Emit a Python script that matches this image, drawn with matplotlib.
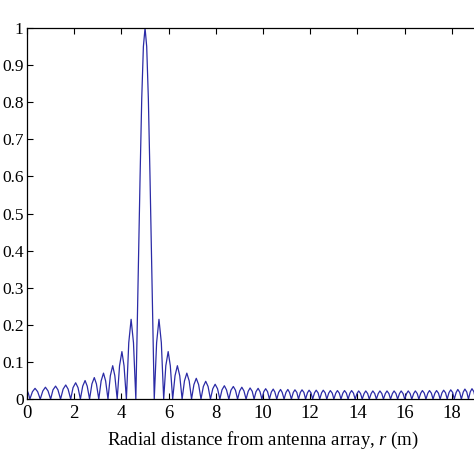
import matplotlib.pyplot as plt

# normalised gain pattern, one lobe per line
left_r = [
    0.00, 0.06,
    0.12, 0.23, 0.34, 0.45,
    0.56, 0.67, 0.78, 0.89,
    1.00, 1.10, 1.21, 1.31,
    1.42, 1.53, 1.64, 1.74,
    1.85, 1.95, 2.06, 2.16,
    2.26, 2.36, 2.46, 2.55,
    2.65, 2.75, 2.85, 2.94,
    3.04, 3.14, 3.24, 3.33,
    3.43, 3.53, 3.63, 3.72,
    3.82, 3.92, 4.02, 4.11,
    4.21, 4.31, 4.41, 4.51,
]
left_g = [
    0.024, 0.015,
    0.0, 0.020, 0.029, 0.020,
    0.0, 0.022, 0.032, 0.022,
    0.0, 0.025, 0.035, 0.025,
    0.0, 0.027, 0.038, 0.027,
    0.0, 0.031, 0.044, 0.031,
    0.0, 0.035, 0.050, 0.035,
    0.0, 0.041, 0.058, 0.041,
    0.0, 0.049, 0.070, 0.049,
    0.0, 0.063, 0.090, 0.063,
    0.0, 0.090, 0.128, 0.090,
    0.0, 0.152, 0.215, 0.152,
]

main_r = [4.61, 4.66, 4.72, 4.79, 4.86, 4.93, 5.00,
          5.07, 5.14, 5.21, 5.28, 5.34]
main_g = [0.0, 0.17, 0.37, 0.60, 0.81, 0.95, 1.00,
          0.95, 0.81, 0.60, 0.37, 0.17]

right_r = [
    5.39, 5.49, 5.59, 5.69,
    5.79, 5.88, 5.98, 6.07,
    6.17, 6.27, 6.37, 6.47,
    6.57, 6.67, 6.77, 6.87,
    6.97, 7.07, 7.17, 7.27,
    7.37, 7.47, 7.57, 7.67,
    7.77, 7.87, 7.97, 8.07,
    8.17, 8.26, 8.36, 8.45,
    8.55, 8.64, 8.74, 8.83,
    8.92, 9.01, 9.10, 9.19,
    9.28, 9.37, 9.45, 9.54,
    9.62, 9.70, 9.79, 9.87,
    9.95, 10.03, 10.11, 10.19,
    10.27, 10.35, 10.43, 10.50,
    10.58, 10.66, 10.74, 10.81,
    10.89, 10.97, 11.05, 11.12,
    11.20, 11.28, 11.35, 11.43,
    11.50, 11.58, 11.65, 11.73,
    11.80, 11.88, 11.95, 12.03,
    12.10, 12.18, 12.25, 12.33,
    12.40, 12.48, 12.55, 12.63,
    12.70, 12.78, 12.85, 12.93,
    13.00, 13.08, 13.15, 13.23,
    13.30, 13.38, 13.45, 13.53,
    13.60, 13.68, 13.75, 13.83,
    13.90, 13.98, 14.05, 14.13,
    14.20, 14.28, 14.35, 14.43,
    14.50, 14.58, 14.65, 14.73,
    14.80, 14.88, 14.95, 15.03,
    15.10, 15.18, 15.25, 15.33,
    15.40, 15.48, 15.55, 15.63,
    15.70, 15.78, 15.85, 15.93,
    16.00, 16.08, 16.15, 16.23,
    16.30, 16.38, 16.45, 16.53,
    16.60, 16.68, 16.75, 16.83,
    16.90, 16.98, 17.05, 17.13,
    17.20, 17.28, 17.35, 17.43,
    17.50, 17.58, 17.65, 17.73,
    17.80, 17.88, 17.95, 18.03,
    18.10, 18.18, 18.25, 18.33,
    18.40, 18.48, 18.55, 18.63,
    18.70, 18.78, 18.85, 18.93,
    19.00, 19.08, 19.15, 19.23,
    19.30, 19.38, 19.45, 19.53,
    19.60, 19.68, 19.75, 19.83,
    19.90, 20.00,
]
right_g = [
    0.0, 0.152, 0.215, 0.152,
    0.0, 0.090, 0.128, 0.090,
    0.0, 0.063, 0.090, 0.063,
    0.0, 0.049, 0.070, 0.049,
    0.0, 0.039, 0.056, 0.039,
    0.0, 0.034, 0.048, 0.034,
    0.0, 0.028, 0.040, 0.028,
    0.0, 0.025, 0.036, 0.025,
    0.0, 0.024, 0.034, 0.024,
    0.0, 0.022, 0.032, 0.022,
    0.0, 0.021, 0.030, 0.021,
    0.0, 0.020, 0.029, 0.020,
    0.0, 0.020, 0.028, 0.020,
    0.0, 0.019, 0.027, 0.019,
    0.0, 0.018, 0.026, 0.018,
    0.0, 0.018, 0.026, 0.018,
    0.0, 0.018, 0.025, 0.018,
    0.0, 0.018, 0.025, 0.018,
    0.0, 0.017, 0.024, 0.017,
    0.0, 0.017, 0.024, 0.017,
    0.0, 0.017, 0.024, 0.017,
    0.0, 0.016, 0.023, 0.016,
    0.0, 0.016, 0.023, 0.016,
    0.0, 0.016, 0.023, 0.016,
    0.0, 0.016, 0.023, 0.016,
    0.0, 0.015, 0.022, 0.015,
    0.0, 0.015, 0.022, 0.015,
    0.0, 0.015, 0.022, 0.015,
    0.0, 0.015, 0.022, 0.015,
    0.0, 0.015, 0.022, 0.015,
    0.0, 0.015, 0.022, 0.015,
    0.0, 0.015, 0.022, 0.015,
    0.0, 0.015, 0.022, 0.015,
    0.0, 0.015, 0.022, 0.015,
    0.0, 0.016, 0.023, 0.016,
    0.0, 0.016, 0.023, 0.016,
    0.0, 0.016, 0.023, 0.016,
    0.0, 0.017, 0.024, 0.017,
    0.0, 0.018, 0.025, 0.018,
    0.0, 0.018, 0.026, 0.018,
    0.0, 0.019, 0.027, 0.019,
    0.0, 0.020, 0.028, 0.020,
    0.0, 0.020, 0.029, 0.020,
    0.0, 0.021, 0.030, 0.021,
    0.0, 0.021, 0.030, 0.021,
    0.0, 0.015,
]

# 20 sits outside the cropped picture, so only up to 18
x_ticks = list(range(0, 19, 2))
y_ticks = [0, 0.1, 0.2, 0.3, 0.4, 0.5, 0.6, 0.7, 0.8, 0.9, 1]
y_labels = ["0", "0.1", "0.2", "0.3", "0.4", "0.5", "0.6", "0.7", "0.8", "0.9", "1"]

r = left_r + main_r + right_r
g = left_g + main_g + right_g

plt.rcParams["font.family"] = ["Liberation Serif", "DejaVu Serif"]
plt.rcParams["mathtext.fontset"] = "custom"
plt.rcParams["mathtext.rm"] = "Liberation Serif"
plt.rcParams["mathtext.it"] = "Liberation Serif:italic"

fig = plt.figure(figsize=(4.74, 4.74), dpi=100)
# axes run past the right edge, the source image is cropped there
ax = fig.add_axes([0.057, 0.158, 0.996, 0.783])
ax.plot(r, g, color="#2b2ba6", linewidth=0.9)

ax.set_xlim(0, 20)
ax.set_ylim(0, 1)
ax.set_xticks(x_ticks)
ax.set_yticks(y_ticks)
ax.set_yticklabels(y_labels)
ax.tick_params(direction="in", top=True, right=True, length=4, width=0.8)
ax.tick_params(axis="x", labelsize=13.5, pad=4)
ax.tick_params(axis="y", labelsize=12.5, pad=2.5)
for s in ax.spines.values():
    s.set_linewidth(0.9)

ax.set_xlabel("Radial distance from antenna array, $\\it{r}$ (m)", fontsize=13.5, labelpad=6)

fig.savefig("out.png", dpi=100)
